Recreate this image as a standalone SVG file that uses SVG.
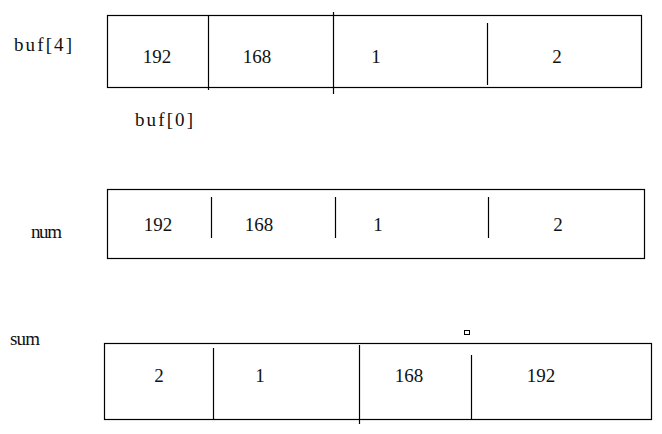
<svg xmlns="http://www.w3.org/2000/svg" width="662" height="434" viewBox="0 0 662 434">
<style>
.box{fill:none;stroke:#000;stroke-width:1.2}
.div{stroke:#000;stroke-width:1.2}
.t{font-family:'Liberation Serif',serif;font-size:19px;fill:#111}
.m{text-anchor:middle}
</style>
<rect width="662" height="434" fill="#fff"/>
<g id="buf">
<rect class="box" x="107.5" y="15.5" width="534" height="72"/>
<line class="div" x1="208.5" y1="15" x2="208.5" y2="90"/>
<line class="div" x1="333.5" y1="12" x2="333.5" y2="94"/>
<line class="div" x1="487.5" y1="23" x2="487.5" y2="85"/>
<text class="t m" x="157" y="63">192</text>
<text class="t m" x="257" y="63">168</text>
<text class="t m" x="376" y="63">1</text>
<text class="t m" x="557" y="63">2</text>
<text class="t" x="14" y="51" textLength="58">buf[4]</text>
<text class="t" x="135" y="126" textLength="58">buf[0]</text>
</g>
<g id="num">
<rect class="box" x="107.5" y="189.5" width="537" height="69"/>
<line class="div" x1="211.5" y1="197" x2="211.5" y2="238"/>
<line class="div" x1="335.5" y1="197" x2="335.5" y2="238"/>
<line class="div" x1="488.5" y1="197" x2="488.5" y2="238"/>
<text class="t m" x="158" y="231">192</text>
<text class="t m" x="259" y="231">168</text>
<text class="t m" x="378" y="231">1</text>
<text class="t m" x="558" y="231">2</text>
<text class="t" x="31" y="238" textLength="31">num</text>
</g>
<g id="sum">
<rect class="box" x="104.5" y="343.5" width="547" height="76"/>
<line class="div" x1="213.5" y1="348" x2="213.5" y2="420"/>
<line class="div" x1="359.5" y1="345" x2="359.5" y2="424"/>
<line class="div" x1="471.5" y1="355" x2="471.5" y2="420"/>
<text class="t m" x="159" y="382">2</text>
<text class="t m" x="260" y="382">1</text>
<text class="t m" x="409" y="382">168</text>
<text class="t m" x="541" y="382">192</text>
<text class="t" x="10" y="345" textLength="30">sum</text>
<rect x="464.5" y="330.5" width="5" height="4" fill="none" stroke="#000" stroke-width="1"/>
</g>
</svg>
